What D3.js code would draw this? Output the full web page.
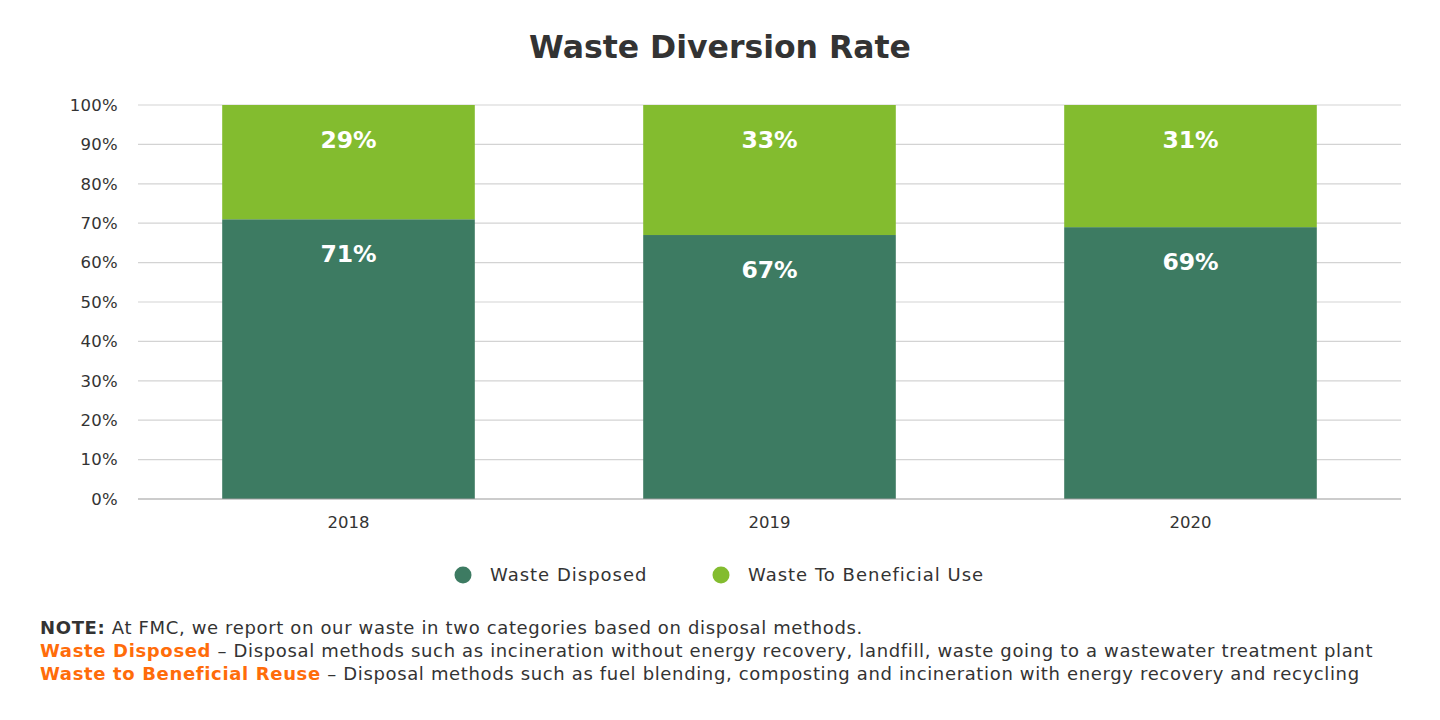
<!DOCTYPE html>
<html>
<head>
<meta charset="utf-8">
<script src="https://cdn.jsdelivr.net/npm/d3@7"></script>
<style>
  body { margin: 0; background: #fff; }
  svg { font-family: "DejaVu Sans", "Noto Sans", sans-serif; }
</style>
</head>
<body>
<div id="chart"></div>
<script>
// data
const years = ["2018", "2019", "2020"];
const disposed = [71, 67, 69];
const beneficial = [29, 33, 31];
const seriesNames = ["Waste Disposed", "Waste To Beneficial Use"];
const seriesColors = ["#3d7b62", "#83bc2f"];
const yTicks = [0, 10, 20, 30, 40, 50, 60, 70, 80, 90, 100];

const width = 1440;
const height = 720;
const margin = { top: 105, right: 39, bottom: 221, left: 138 };
const font = "'DejaVu Sans', 'Noto Sans', sans-serif";

const svg = d3.select("#chart")
  .append("svg")
  .attr("width", width)
  .attr("height", height);

svg.append("text")
  .attr("x", width / 2)
  .attr("y", 58)
  .attr("text-anchor", "middle")
  .attr("font-size", 31.5)
  .attr("font-weight", 700)
  .attr("fill", "#333")
  .text("Waste Diversion Rate");

const x = d3.scaleBand()
  .domain(years)
  .range([margin.left, width - margin.right])
  .paddingInner(0.4)
  .paddingOuter(0.2);

const y = d3.scaleLinear()
  .domain([0, 100])
  .range([height - margin.bottom, margin.top]);

// grid lines
svg.append("g")
  .selectAll("line")
  .data(yTicks.slice(1))
  .join("line")
  .attr("x1", margin.left)
  .attr("x2", width - margin.right)
  .attr("y1", d => y(d))
  .attr("y2", d => y(d))
  .attr("stroke", "#d3d3d3")
  .attr("stroke-width", 1.2);

// y axis labels
const yAxis = svg.append("g")
  .attr("transform", `translate(${margin.left - 17},0)`)
  .call(d3.axisLeft(y).tickValues(yTicks).tickFormat(d => d + "%").tickSize(0));
yAxis.select(".domain").remove();
yAxis.selectAll("text")
  .attr("font-size", 16.5)
  .attr("font-family", font)
  .attr("letter-spacing", 0.3)
  .attr("fill", "#333");

// stacked bars
const rows = years.map((yr, i) => ({ year: yr, disposed: disposed[i], beneficial: beneficial[i] }));
const stack = d3.stack().keys(["disposed", "beneficial"])(rows);

const layers = svg.append("g")
  .selectAll("g")
  .data(stack)
  .join("g")
  .attr("fill", (d, i) => seriesColors[i]);

layers.selectAll("rect")
  .data(d => d)
  .join("rect")
  .attr("x", d => x(d.data.year))
  .attr("width", x.bandwidth())
  .attr("y", d => y(d[1]))
  .attr("height", d => y(d[0]) - y(d[1]));

layers.selectAll("text")
  .data(d => d)
  .join("text")
  .attr("x", d => x(d.data.year) + x.bandwidth() / 2)
  .attr("y", d => y(d[1]) + 43)
  .attr("text-anchor", "middle")
  .attr("font-size", 23.5)
  .attr("font-weight", 700)
  .attr("fill", "#fff")
  .text(d => (d[1] - d[0]) + "%");

// baseline
svg.append("line")
  .attr("x1", margin.left)
  .attr("x2", width - margin.right)
  .attr("y1", y(0))
  .attr("y2", y(0))
  .attr("stroke", "#9a9a9a")
  .attr("stroke-width", 1.2);

// x axis labels
const xAxis = svg.append("g")
  .attr("transform", `translate(0,${y(0) + 14})`)
  .call(d3.axisBottom(x).tickSize(0));
xAxis.select(".domain").remove();
xAxis.selectAll("text")
  .attr("font-size", 16.5)
  .attr("font-family", font)
  .attr("fill", "#333");

// legend
const legendX = [463, 721];
const legend = svg.append("g")
  .selectAll("g")
  .data(seriesNames)
  .join("g")
  .attr("transform", (d, i) => `translate(${legendX[i]},575)`);
legend.append("circle")
  .attr("r", 8.5)
  .attr("fill", (d, i) => seriesColors[i]);
legend.append("text")
  .attr("x", 27)
  .attr("dy", "0.35em")
  .attr("font-size", 18)
  .attr("letter-spacing", 1)
  .attr("fill", "#333")
  .text(d => d);

// notes
const notes = [
  { head: "NOTE:", headColor: "#333", body: " At FMC, we report on our waste in two categories based on disposal methods." },
  { head: "Waste Disposed", headColor: "#ff6c0a", body: " \u2013 Disposal methods such as incineration without energy recovery, landfill, waste going to a wastewater treatment plant" },
  { head: "Waste to Beneficial Reuse", headColor: "#ff6c0a", body: " \u2013 Disposal methods such as fuel blending, composting and incineration with energy recovery and recycling" }
];
const noteLines = svg.append("g")
  .selectAll("text")
  .data(notes)
  .join("text")
  .attr("x", 40)
  .attr("y", (d, i) => 634 + i * 23)
  .attr("font-size", 18)
  .attr("letter-spacing", 0.65)
  .attr("fill", "#333");
noteLines.append("tspan")
  .attr("font-weight", 700)
  .attr("fill", d => d.headColor)
  .text(d => d.head);
noteLines.append("tspan")
  .text(d => d.body);
</script>
</body>
</html>
